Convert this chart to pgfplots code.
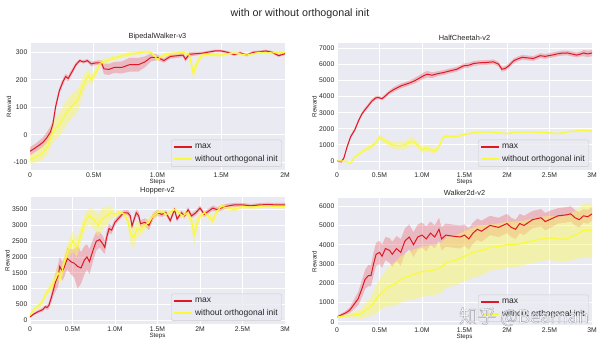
\documentclass[border=0pt]{standalone}
\usepackage{pgfplots}
\pgfplotsset{compat=1.18}
\usepgfplotslibrary{fillbetween}
\usepackage{pgfplotstable}
\usepackage{fontspec}
\setmainfont{Liberation Sans}
\newfontfamily\cjk{Noto Sans CJK SC}
\definecolor{bgc}{RGB}{234,234,242}
\definecolor{redl}{RGB}{222,24,36}
\definecolor{yell}{RGB}{250,250,60}
\definecolor{redf}{RGB}{235,70,80}
\definecolor{yelf}{RGB}{250,250,90}
\definecolor{txt}{RGB}{38,38,38}

% BipedalWalker
\pgfplotstableread{
x y e
0 -60 15
0.05 -45 15
0.1 -28 18
0.13 -12 20
0.16 10 20
0.18 40 15
0.2 100 15
0.23 160 12
0.26 195 12
0.28 212 10
0.3 205 10
0.33 230 10
0.36 255 8
0.39 270 6
0.42 265 6
0.45 270 6
0.48 258 8
0.52 262 8
0.56 262 10
0.58 240 20
0.62 238 20
0.66 245 20
0.72 245 22
0.78 255 25
0.85 255 25
0.9 265 20
0.95 282 15
1.0 282 10
1.05 270 8
1.1 285 8
1.2 290 8
1.22 275 10
1.25 293 8
1.35 297 5
1.45 305 5
1.5 305 5
1.55 300 5
1.6 292 5
1.65 298 5
1.7 290 5
1.75 300 5
1.8 302 5
1.85 305 5
1.9 300 5
1.95 288 5
2.0 295 5
}\bwred
\pgfplotstableread{
x y e
0 -90 15
0.05 -80 20
0.1 -65 25
0.14 -40 30
0.17 0 35
0.2 25 40
0.22 30 40
0.26 60 45
0.3 90 45
0.34 110 45
0.38 130 40
0.4 160 35
0.43 195 30
0.46 215 25
0.48 200 20
0.52 230 15
0.55 260 12
0.6 270 10
0.7 285 8
0.8 295 8
0.9 302 5
0.95 300 5
1.0 275 8
1.05 290 8
1.1 295 6
1.2 300 6
1.25 290 10
1.28 225 25
1.32 270 15
1.35 290 8
1.4 292 6
1.5 290 6
1.55 295 5
1.6 298 5
1.7 290 5
1.8 300 5
1.9 298 5
2.0 300 5
}\bwyel
% HalfCheetah
\pgfplotstableread{
x y e
0 0 50
0.05 -50 50
0.08 170 80
0.12 900 100
0.16 1500 120
0.21 1940 120
0.25 2460 120
0.29 2900 120
0.33 3190 120
0.37 3450 120
0.41 3720 120
0.45 3900 120
0.48 3950 100
0.53 3870 100
0.57 4050 120
0.61 4240 120
0.67 4450 150
0.75 4660 150
0.8 4750 150
0.86 4860 150
0.92 5000 180
0.98 5180 180
1.02 5300 200
1.06 5390 200
1.12 5330 180
1.18 5420 150
1.25 5490 150
1.33 5600 150
1.41 5700 150
1.49 5910 150
1.55 5950 150
1.61 6060 150
1.68 6100 150
1.76 6120 150
1.84 6160 150
1.9 6020 150
1.94 5700 150
1.98 5750 150
2.02 5910 150
2.08 6230 150
2.13 6350 150
2.18 6440 150
2.25 6400 150
2.31 6370 150
2.39 6540 150
2.45 6500 150
2.49 6540 150
2.55 6600 150
2.59 6650 150
2.65 6700 150
2.71 6710 150
2.76 6650 150
2.82 6580 150
2.87 6650 150
2.9 6710 200
2.95 6650 200
3.0 6710 200
}\hcred
\pgfplotstableread{
x y e
0 0 50
0.08 0 50
0.12 -50 60
0.16 -150 60
0.2 200 80
0.25 400 100
0.3 600 100
0.35 750 120
0.4 900 150
0.45 1100 150
0.5 1480 150
0.55 1300 180
0.6 1150 200
0.65 1000 200
0.72 950 250
0.8 1000 250
0.86 1200 300
0.9 1200 250
0.95 1000 200
1.0 700 200
1.05 800 200
1.1 700 180
1.15 600 180
1.2 900 150
1.25 1500 100
1.3 1550 80
1.4 1500 80
1.5 1650 80
1.6 1750 60
1.7 1800 60
1.8 1800 60
1.9 1750 60
2.0 1700 60
2.1 1800 60
2.3 1800 60
2.5 1750 60
2.6 1700 60
2.7 1800 60
2.8 1850 60
2.9 1900 60
3.0 1850 60
}\hcyel
% Hopper
\pgfplotstableread{
x y e
0 100 30
0.05 200 40
0.1 270 50
0.15 330 60
0.18 420 60
0.2 400 80
0.22 450 100
0.25 700 150
0.28 1000 200
0.3 1200 300
0.33 1400 350
0.35 1700 300
0.38 1550 300
0.4 1650 300
0.42 1800 300
0.44 1950 350
0.48 1850 400
0.52 1800 450
0.56 1700 700
0.6 1650 500
0.64 1900 450
0.67 2000 400
0.7 1850 400
0.74 2200 350
0.78 2500 300
0.82 2550 250
0.86 2400 250
0.88 2300 200
0.9 2600 200
0.93 2900 150
0.96 2850 120
1.0 3100 100
1.05 3250 80
1.1 3400 80
1.15 3400 80
1.18 3300 100
1.2 2980 120
1.25 3400 100
1.28 3300 120
1.3 3050 120
1.35 3100 120
1.4 3000 150
1.45 3300 100
1.5 3400 100
1.55 3350 80
1.6 3400 80
1.65 3150 80
1.7 3500 80
1.73 3200 80
1.78 3400 80
1.82 3300 80
1.86 3500 80
1.9 3300 80
1.95 3400 80
2.0 3550 80
2.05 3350 80
2.1 3450 80
2.15 3550 80
2.2 3500 80
2.25 3550 80
2.3 3600 80
2.4 3650 60
2.5 3650 60
2.6 3620 60
2.7 3650 60
2.8 3660 60
2.9 3650 60
3.0 3650 60
}\hored
\pgfplotstableread{
x y e
0 150 50
0.05 350 60
0.1 450 80
0.15 600 100
0.18 800 100
0.22 950 120
0.26 1100 150
0.3 1300 200
0.33 1500 200
0.36 1350 200
0.4 1800 250
0.45 2200 300
0.5 2500 300
0.55 2300 300
0.6 2700 300
0.65 3150 250
0.7 3300 250
0.75 3200 300
0.8 3000 350
0.85 3200 350
0.9 3300 300
0.95 3400 200
1.0 3350 100
1.05 3400 80
1.1 3380 80
1.15 3150 150
1.18 2750 300
1.22 2600 350
1.26 2900 250
1.3 2850 200
1.35 3000 150
1.4 3100 120
1.45 3300 100
1.5 3400 100
1.55 3450 80
1.6 3350 80
1.65 3400 80
1.7 3500 80
1.75 3400 80
1.8 3300 80
1.85 3400 100
1.9 3150 200
1.93 2700 350
1.97 3100 200
2.0 3300 100
2.05 3400 80
2.1 3300 100
2.15 3150 150
2.2 3450 100
2.25 3600 80
2.35 3550 80
2.4 3500 80
2.5 3600 60
2.6 3580 60
2.7 3600 60
2.8 3620 60
2.9 3600 60
3.0 3600 60
}\hoyel
% Walker2d
\pgfplotstableread{
x y e
0 250 50
0.05 350 80
0.1 450 100
0.15 600 150
0.2 900 250
0.25 1200 350
0.3 1800 450
0.33 2200 500
0.37 2400 550
0.4 2400 550
0.43 3000 600
0.46 3500 600
0.5 3600 600
0.53 3400 600
0.57 3800 600
0.62 3700 650
0.65 3500 650
0.7 3800 650
0.75 3600 700
0.8 4200 650
0.85 4400 650
0.9 4000 650
0.95 4400 650
1.0 4500 650
1.05 4300 650
1.1 4600 600
1.15 4400 600
1.2 4800 600
1.23 4300 600
1.28 4500 600
1.35 4450 600
1.45 4400 600
1.5 4500 550
1.55 4300 550
1.6 4600 550
1.65 4800 550
1.7 4700 550
1.8 5000 500
1.9 4900 500
2.0 5100 500
2.05 4900 500
2.1 4800 500
2.15 5100 500
2.2 5000 500
2.3 5300 450
2.4 5400 450
2.45 5200 450
2.5 5300 450
2.6 5500 400
2.7 5550 400
2.75 5600 400
2.8 5400 400
2.85 5300 400
2.9 5500 350
2.95 5450 350
3.0 5600 350
}\wkred
\pgfplotstableread{
x y e
0 250 50
0.1 300 80
0.2 350 150
0.28 400 250
0.35 650 400
0.4 800 500
0.45 1100 700
0.5 1400 800
0.55 1600 900
0.6 1800 1000
0.65 1900 1100
0.7 2000 1150
0.75 2200 1200
0.8 2300 1200
0.9 2450 1300
1.0 2600 1300
1.1 2650 1300
1.2 2750 1300
1.3 3100 1300
1.4 3200 1300
1.5 3400 1300
1.6 3600 1300
1.7 3700 1300
1.8 3850 1200
1.9 3900 1200
2.0 4000 1200
2.1 4000 1200
2.2 4100 1150
2.3 4200 1150
2.4 4300 1150
2.5 4350 1150
2.6 4300 1150
2.7 4300 1200
2.8 4500 1250
2.85 4600 1300
2.9 4750 1400
3.0 4750 1400
}\wkyel

\newcommand{\band}[4]{%
  \addplot[name path=#4u, draw=none, forget plot] table[x=x, y expr=\thisrow{y}+\thisrow{e}] {#1};
  \addplot[name path=#4l, draw=none, forget plot] table[x=x, y expr=\thisrow{y}-\thisrow{e}] {#1};
  \addplot[fill=#2, fill opacity=#3, draw=none, forget plot] fill between[of=#4u and #4l];
}

\pgfplotsset{
  sns/.style={
    scale only axis, width=255pt, height=127pt,
    axis background/.style={fill=bgc},
    axis line style={draw=none},
    major tick length=0pt,
    grid=major, grid style={white, line width=0.8pt},
    xmin=0,
    tick label style={font=\fontsize{6.8}{7}\selectfont, text=txt},
    /pgf/number format/assume math mode=true,
    /pgf/number format/1000 sep={},
    scaled y ticks=false,
    xticklabel style={inner sep=1pt, yshift=-2pt},
    yticklabel style={inner sep=1pt, xshift=-1.5pt},
    xlabel={Steps}, ylabel={Reward},
    label style={font=\fontsize{6.2}{7}\selectfont, text=txt},
    xlabel style={yshift=3pt},
    ylabel style={yshift=-2pt},
    title style={font=\fontsize{7.4}{8}\selectfont, text=txt, yshift=-7pt},
    legend style={at={(0.988,0.025)}, anchor=south east, draw={rgb,255:red,204;green,204;blue,204},
      fill=bgc, fill opacity=0.8, text opacity=1, rounded corners=2pt,
      font=\fontsize{8.5}{9}\selectfont, text=txt, inner xsep=2pt, inner ysep=2pt,
      row sep=1pt},
    legend cell align=left,
    legend image code/.code={\draw[#1, line width=1.8pt] (0pt,0pt) -- (18pt,0pt);},
  },
  sx2/.style={xmax=2, xtick={0,0.5,1,1.5,2}, xticklabels={0,0.5M,1.0M,1.5M,2M}},
  sx3/.style={xmax=3, xtick={0,0.5,1,1.5,2,2.5,3}, xticklabels={0,0.5M,1.0M,1.5M,2M,2.5M,3M}},
}

\begin{document}
\begin{tikzpicture}[x=1pt,y=1pt]
\node[font=\fontsize{10.7}{12}\selectfont, text=txt] at (300,329) {with or without orthogonal init};

\begin{axis}[sns, sx2, at={(30pt,173pt)}, anchor=south west, ymin=-128, ymax=334,
  ytick={-100,0,100,200,300}, title={BipedalWalker-v3}]
\band{\bwred}{redf}{0.3}{a}
\addplot[redl, line width=1pt] table[x=x,y=y] {\bwred};
\addlegendentry{max}
\band{\bwyel}{yelf}{0.45}{b}
\addplot[yell, line width=1.2pt] table[x=x,y=y] {\bwyel};
\addlegendentry{without orthogonal init}
\end{axis}

\begin{axis}[sns, sx3, at={(337pt,173pt)}, anchor=south west, ymin=-560, ymax=7330,
  ytick={0,1000,...,7000}, title={HalfCheetah-v2}]
\band{\hcred}{redf}{0.3}{c}
\addplot[redl, line width=1pt] table[x=x,y=y] {\hcred};
\addlegendentry{max}
\band{\hcyel}{yelf}{0.45}{d}
\addplot[yell, line width=1.2pt] table[x=x,y=y] {\hcyel};
\addlegendentry{without orthogonal init}
\end{axis}

\begin{axis}[sns, sx3, at={(30pt,19pt)}, anchor=south west, ymin=-126, ymax=3900,
  ytick={0,500,...,3500}, title={Hopper-v2}]
\band{\hored}{redf}{0.3}{e}
\addplot[redl, line width=1pt] table[x=x,y=y] {\hored};
\addlegendentry{max}
\band{\hoyel}{yelf}{0.45}{f}
\addplot[yell, line width=1.2pt] table[x=x,y=y] {\hoyel};
\addlegendentry{without orthogonal init}
\end{axis}

\begin{axis}[sns, sx3, at={(337pt,18pt)}, anchor=south west, ymin=-170, ymax=6425,
  ytick={0,1000,...,6000}, title={Walker2d-v2}]
\band{\wkred}{redf}{0.3}{g}
\addplot[redl, line width=1pt] table[x=x,y=y] {\wkred};
\addlegendentry{max}
\band{\wkyel}{yelf}{0.45}{h}
\addplot[yell, line width=1.2pt] table[x=x,y=y] {\wkyel};
\addlegendentry{without orthogonal init}
\end{axis}

\node[anchor=base west, inner sep=0pt, font=\cjk\fontsize{18.5}{20}\selectfont, text=white, opacity=0.85] at (459,20) {\special{pdf:literal direct 2 Tr 0.35 w 0.55 0.55 0.6 RG}知乎 @Beaman\special{pdf:literal direct 0 Tr}};
\pgfresetboundingbox
\path[use as bounding box] (0,0) rectangle (600,343);
\end{tikzpicture}
\end{document}
